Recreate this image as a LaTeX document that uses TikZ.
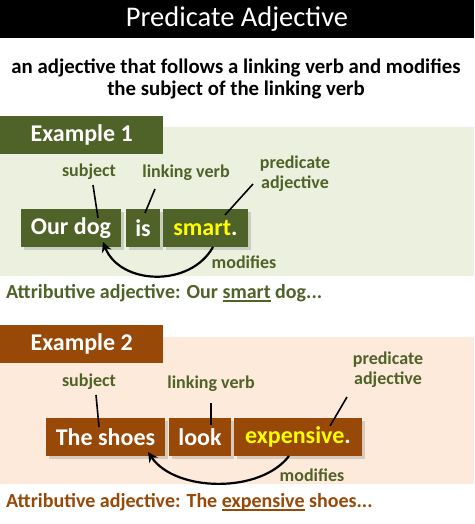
\documentclass[tikz,border=0pt]{standalone}
\usepackage{fontspec}
\setmainfont{Carlito}
\usetikzlibrary{shadows,arrows.meta}
\definecolor{olive}{HTML}{4F6228}
\definecolor{lolive}{HTML}{EBF1DE}
\definecolor{brownc}{HTML}{984807}
\definecolor{peach}{HTML}{FDEADA}
\definecolor{yel}{HTML}{FFFF00}
\newcommand{\myuline}[1]{\setbox0\hbox{#1}\rlap{\rule[-3.5pt]{\wd0}{1.3pt}}\box0\relax}
\tikzset{
  word/.style={fill=#1, text=white, font=\bfseries\fontsize{24}{24}\selectfont, minimum height=38pt, inner sep=0pt,
    drop shadow={opacity=0.3, shadow xshift=2.5pt, shadow yshift=-2.5pt}},
  tab/.style={fill=#1, text=white, font=\bfseries\fontsize{24}{24}\selectfont, minimum height=38pt, minimum width=163pt, inner sep=0pt, anchor=north west},
  lbl/.style={text=olive, font=\bfseries\fontsize{18}{20}\selectfont, align=center, inner sep=0pt},
  ptr/.style={line width=1.6pt, black},
  modarrow/.style={line width=2.2pt, black, -{Stealth[length=10pt,width=10pt]}},
  attr/.style={font=\bfseries\fontsize{20}{20}\selectfont, anchor=west, inner sep=0pt}
}
\begin{document}
\begin{tikzpicture}[x=1pt,y=-1pt]
\useasboundingbox (0,0) rectangle (474,524);
\fill[white] (0,0) rectangle (474,524);
% title
\fill[black] (0,0) rectangle (474,38);
\node[text=white, font=\fontsize{28.5}{28}\selectfont, inner sep=0pt] (title) at (237,19) {Predicate Adjective};
\node[font=\bfseries\fontsize{20.8}{22}\selectfont, align=center, inner sep=0pt] (def) at (236,79) {an adjective that follows a linking verb and modifies\\the subject of the linking verb};
% Example 1
\fill[lolive] (0,127) rectangle (474,276);
\node[tab=olive] (tab1) at (0,116) {Example 1};
\node[word=olive, minimum width=100pt] (w11) at (71,228) {Our dog};
\node[word=olive, minimum width=34pt] (w12) at (143,228) {is};
\node[word=olive, minimum width=85pt] (w13) at (205.5,228) {\textcolor{yel}{smart}.};
\node[lbl] (l11) at (89,172) {subject};
\node[lbl] (l12) at (186,173) {linking verb};
\node[lbl] (l13) at (295,174) {predicate\\adjective};
\coordinate (a11) at (93,185); \coordinate (b11) at (98,218);
\coordinate (a12) at (155,189); \coordinate (b12) at (145,213);
\coordinate (a13) at (253,184); \coordinate (b13) at (225,215);
\draw[ptr] (a11) -- (b11);
\draw[ptr] (a12) -- (b12);
\draw[ptr] (a13) -- (b13);
\coordinate (m1s) at (213,247); \coordinate (m1e) at (103,242);
\draw[modarrow] (m1s) .. controls (190,288) and (120,285) .. (m1e);
\node[lbl] (mod1) at (244,262) {modifies};
\node[attr, text=olive] (attr1) at (6,293) {Attributive adjective: Our \myuline{smart} dog...};
% Example 2
\fill[peach] (0,337) rectangle (474,484);
\node[tab=brownc] (tab2) at (0,325) {Example 2};
\node[word=brownc, minimum width=119pt] (w21) at (105.5,437) {The shoes};
\node[word=brownc, minimum width=62pt] (w22) at (200,437) {look};
\node[word=brownc, minimum width=128pt] (w23) at (298,437) {\textcolor{yel}{expensive}.};
\node[lbl] (l21) at (89,382) {subject};
\node[lbl] (l22) at (211,384) {linking verb};
\node[lbl] (l23) at (388,370) {predicate\\adjective};
\coordinate (a21) at (96,395); \coordinate (b21) at (99,427);
\coordinate (a22) at (211,403); \coordinate (b22) at (211,425);
\coordinate (a23) at (347,397); \coordinate (b23) at (330,426);
\draw[ptr] (a21) -- (b21);
\draw[ptr] (a22) -- (b22);
\draw[ptr] (a23) -- (b23);
\coordinate (m2s) at (289,456); \coordinate (m2e) at (148,452);
\draw[modarrow] (m2s) .. controls (260,494) and (175,492) .. (m2e);
\node[lbl] (mod2) at (312,475) {modifies};
\node[attr, text=brownc] (attr2) at (6,502) {Attributive adjective: The \myuline{expensive} shoes...};
\end{tikzpicture}
\end{document}
